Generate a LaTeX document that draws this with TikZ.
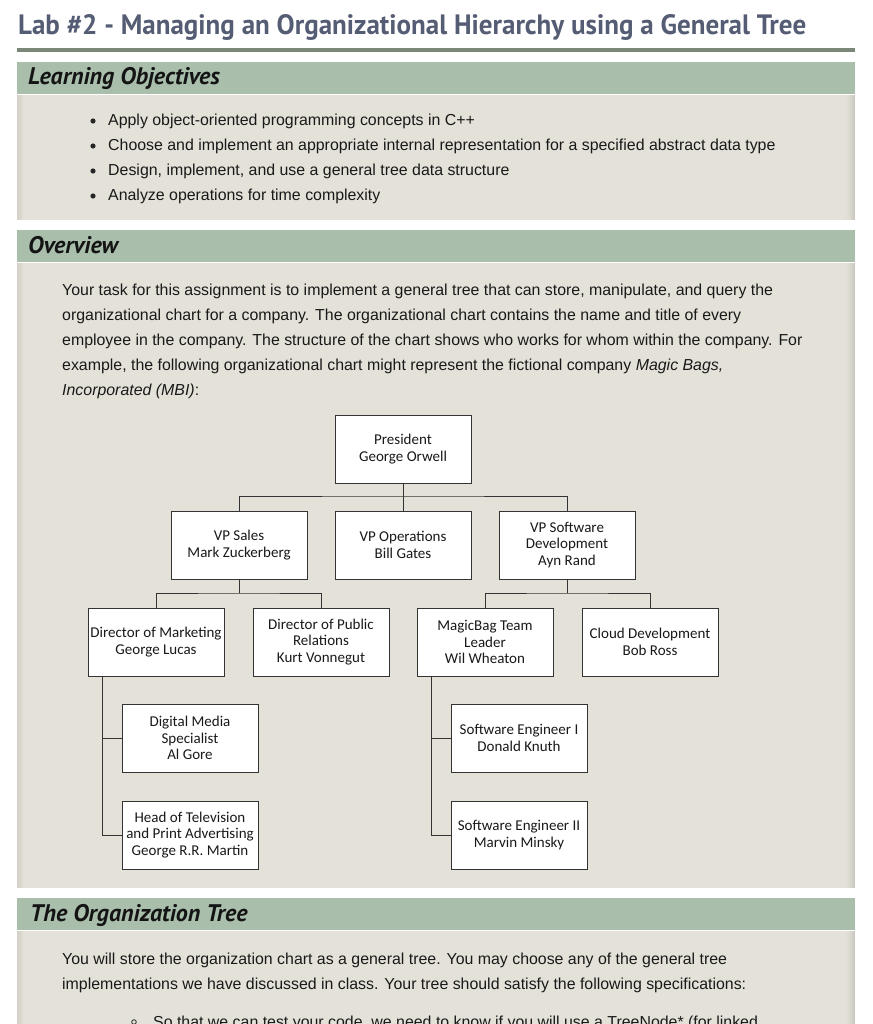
\documentclass[tikz,border=0pt]{standalone}
\usepackage{fontspec}
\setmainfont{Liberation Sans}
\newfontfamily\titlefont{PT Sans}
\newfontfamily\boxfont{Carlito}
\usetikzlibrary{positioning}
\definecolor{titlecol}{HTML}{555D74}
\definecolor{rulecol}{HTML}{7B8878}
\definecolor{headcol}{HTML}{A9BFAC}
\definecolor{bodycol}{HTML}{E4E2D8}
\definecolor{shadecol}{HTML}{C4C2BB}
\definecolor{linecol}{HTML}{333333}
\tikzset{
  orgbox/.style={draw=linecol, line width=0.9pt, fill=white, minimum width=136pt, minimum height=68pt,
    inner sep=1pt, align=center, font=\boxfont\fontsize{15}{16.5}\selectfont, text=black!90},
  conn/.style={draw=linecol, line width=0.9pt},
  headtxt/.style={anchor=base west, inner sep=0pt, font=\titlefont\bfseries\itshape\fontsize{24}{28}\selectfont, text=black!92},
  bodytxt/.style={anchor=base west, inner sep=0pt, font=\fontsize{15.9}{18}\selectfont, text=black!90},
}
\begin{document}
\begin{tikzpicture}[x=1pt,y=-1pt]
\useasboundingbox (0,0) rectangle (872,1024);
\clip (0,0) rectangle (872,1024);
\fill[white] (0,0) rectangle (872,1024);
% title
\node[anchor=base west, inner sep=0pt, text=titlecol] (title) at (18,35)
  {\resizebox{788pt}{20pt}{\titlefont\bfseries\fontsize{26}{30}\selectfont Lab \#2 - Managing an Organizational Hierarchy using a General Tree}};
\fill[rulecol] (17,48) rectangle (855,52);
% sections
\foreach \ht/\hb/\cb in {62/94/220, 230/262/888, 898/930/1040}{
  \fill[headcol] (17,\ht) rectangle (855,\hb);
  \fill[bodycol] (17,\hb+1) rectangle (855,\cb);
  \foreach \i in {0,...,11}{
    \pgfmathsetmacro{\pct}{100-\i*\i*0.69}
    \fill[bodycol!\pct!shadecol] (843+\i,\hb+1) rectangle (844+\i,\cb);
  }
  \foreach \i in {0,...,6}{
    \pgfmathsetmacro{\pct}{50+\i*\i*1.38}
    \fill[bodycol!\pct!shadecol] (17+\i,\hb+1) rectangle (18+\i,\cb);
  }
}
\node[headtxt] (h1) at (28,85) {Learning Objectives};
\node[headtxt] (h2) at (28,253) {Overview};
\node[headtxt] (h3) at (30,921) {The Organization Tree};
% bullets
\foreach \yy/\tt in {126/{Apply object-oriented programming concepts in C++},
  151/{Choose and implement an appropriate internal representation for a specified abstract data type},
  176/{Design, implement, and use a general tree data structure},
  201/{Analyze operations for time complexity}}{
  \fill[black!85] (93,\yy-5) circle (2.6pt);
  \node[bodytxt] at (108,\yy) {\tt};
}
% overview paragraph
\node[bodytxt] (p1) at (62,295) {Your task for this assignment is to implement a general tree that can store, manipulate, and query the};
\node[bodytxt] (p2) at (62,320) {organizational chart for a company. The organizational chart contains the name and title of every};
\node[bodytxt] (p3) at (62,345) {employee in the company. The structure of the chart shows who works for whom within the company. For};
\node[bodytxt] (p4) at (62,370) {example, the following organizational chart might represent the fictional company \textit{Magic Bags,}};
\node[bodytxt] (p5) at (62,395) {\textit{Incorporated (MBI)}:};
% org chart
\node[orgbox] (pres) at (403,449) {President\\George Orwell};
\node[orgbox] (vps) at (239,545) {VP Sales\\Mark Zuckerberg};
\node[orgbox] (vpo) at (403,545) {VP Operations\\Bill Gates};
\node[orgbox] (vpsw) at (567,545) {VP Software\\Development\\Ayn Rand};
\node[orgbox] (dm) at (156,642) {Director of Marketing\\George Lucas};
\node[orgbox] (dpr) at (321,642) {Director of Public\\Relations\\Kurt Vonnegut};
\node[orgbox] (mb) at (485,642) {MagicBag Team\\Leader\\Wil Wheaton};
\node[orgbox] (cd) at (650,642) {Cloud Development\\Bob Ross};
\node[orgbox] (dms) at (190,738) {Digital Media\\Specialist\\Al Gore};
\node[orgbox] (htv) at (190,835) {Head of Television\\and Print Advertising\\George R.R. Martin};
\node[orgbox] (se1) at (519,738) {Software Engineer I\\Donald Knuth};
\node[orgbox] (se2) at (519,835) {Software Engineer II\\Marvin Minsky};
\coordinate (j1) at (403,496);
\coordinate (j2) at (239,593);
\coordinate (j3) at (567,593);
\draw[conn] (pres.south) -- (j1);
\draw[conn] (vps.north) |- (j1) -| (vpsw.north);
\draw[conn] (j1) -- (vpo.north);
\draw[conn] (vps.south) -- (j2);
\draw[conn] (dm.north) |- (j2) -| (dpr.north);
\draw[conn] (vpsw.south) -- (j3);
\draw[conn] (mb.north) |- (j3) -| (cd.north);
\draw[conn] ([xshift=-54pt]dm.south) |- (dms.west);
\draw[conn] ([xshift=-54pt]dm.south) |- (htv.west);
\draw[conn] ([xshift=-54pt]mb.south) |- (se1.west);
\draw[conn] ([xshift=-54pt]mb.south) |- (se2.west);
% third section text
\node[bodytxt] (t1) at (62,964) {You will store the organization chart as a general tree. You may choose any of the general tree};
\node[bodytxt] (t2) at (62,989) {implementations we have discussed in class. Your tree should satisfy the following specifications:};
\draw[black!85, line width=0.8pt] (134,1022) circle (2.3pt);
\node[bodytxt] (t3) at (153,1027) {So that we can test your code, we need to know if you will use a TreeNode* (for linked};
\end{tikzpicture}
\end{document}
